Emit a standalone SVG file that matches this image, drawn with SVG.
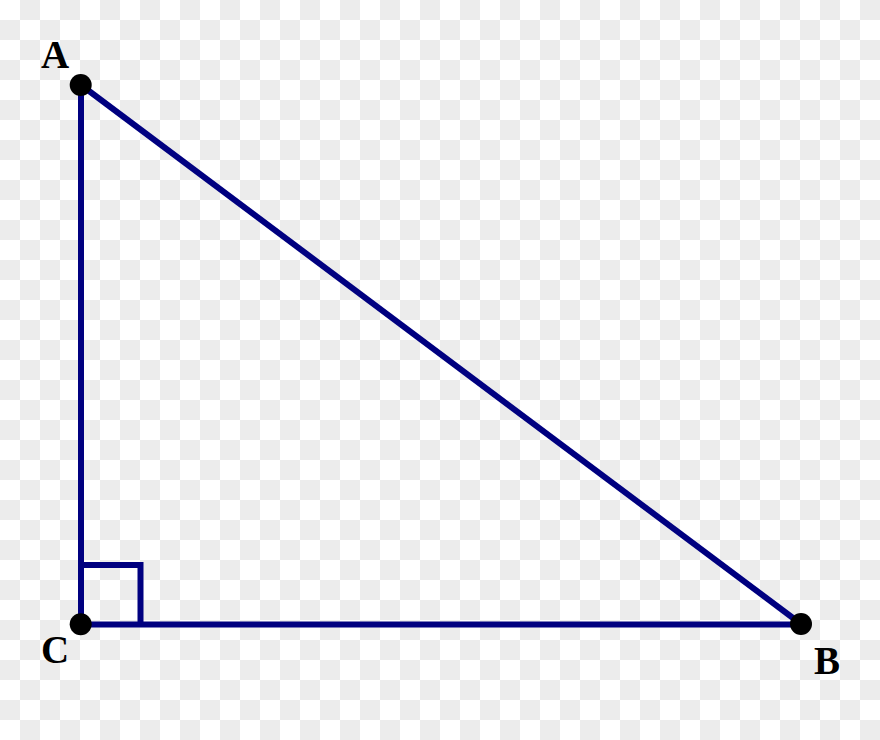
<svg xmlns="http://www.w3.org/2000/svg" width="880" height="740" viewBox="0 0 880 740">
<style>
.edge{stroke:#000080;stroke-width:6;fill:none;stroke-linecap:butt}
.pt{fill:#000}
.lbl{font-family:"Liberation Serif","Times New Roman",serif;font-weight:bold;font-size:39px;fill:#000}
</style>
<defs>
<pattern id="checker" x="0" y="0" width="40" height="40" patternUnits="userSpaceOnUse">
<rect width="40" height="40" fill="#ffffff"/>
<rect x="20" y="0" width="20" height="20" fill="#ececec"/>
<rect x="0" y="20" width="20" height="20" fill="#ececec"/>
</pattern>
</defs>
<rect width="880" height="740" fill="url(#checker)"/>
<g id="connectors">
<line class="edge" x1="81" y1="85" x2="81" y2="624.5"/>
<line class="edge" x1="81" y1="624.5" x2="801" y2="624.5"/>
<line class="edge" x1="81" y1="85" x2="801" y2="624"/>
<polyline class="edge" points="81,565 140.5,565 140.5,624.5"/>
</g>
<g id="A"><circle class="pt" cx="80.7" cy="85" r="11"/><text class="lbl" x="41" y="68">A</text></g>
<g id="C"><circle class="pt" cx="80.7" cy="624.3" r="11"/><text class="lbl" x="41" y="663">C</text></g>
<g id="B"><circle class="pt" cx="801" cy="624" r="11"/><text class="lbl" x="814" y="674">B</text></g>
</svg>
